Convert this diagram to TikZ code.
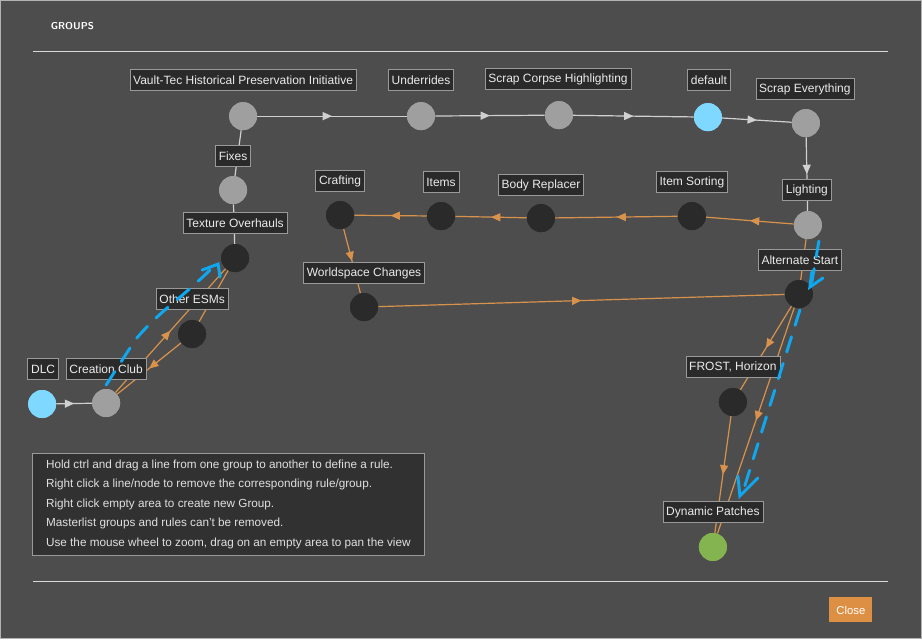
\documentclass[tikz,border=0pt]{standalone}
\usepackage{fontspec}
\setmainfont{Liberation Sans}
\usetikzlibrary{decorations.markings,arrows.meta}
\definecolor{bg}{HTML}{4D4D4D}
\definecolor{lbl}{HTML}{2A2A2A}
\definecolor{org}{HTML}{D9924C}
\definecolor{gry}{HTML}{D0D0D0}
\definecolor{skyb}{HTML}{7FD8FF}
\definecolor{dblue}{HTML}{0FA8F0}
\definecolor{grn}{HTML}{84B450}
\begin{document}
\begin{tikzpicture}[x=0.75pt,y=-0.75pt,
  lab/.style={fill=lbl,draw=gray!80,line width=0.5pt,text=white!92!black,font=\fontsize{9}{10}\selectfont,inner sep=2.5pt,minimum height=16},
  dot/.style={circle,minimum size=21,inner sep=0},
  g/.style={dot,fill=gray!75},
  b/.style={dot,fill=lbl},
  sk/.style={dot,fill=skyb},
  gn/.style={dot,fill=grn},
  mid/.style={postaction={decorate},decoration={markings,mark=at position 0.5 with {\arrow{Triangle[length=7pt,width=6pt]}}}},
  ge/.style={gry,line width=0.9pt},
  oe/.style={org,line width=0.9pt},
  bl/.style={dblue,line width=2.2pt,dash pattern=on 12pt off 9pt,line cap=round}]
\fill[bg] (0,0) rectangle (922,639);
\draw[gray!60,line width=1pt] (0.5,0.5) rectangle (921.5,638.5);
\node[anchor=west,text=white,font=\sffamily\bfseries\fontsize{7.5}{9}\selectfont] (title) at (46,26) {GROUPS};
\draw[white!85!black] (33,51) -- (888,51);
\draw[white!85!black] (33,581) -- (888,581);
% nodes
\node[sk] (dlc) at (42,404) {};
\node[g] (cc) at (106,403) {};
\node[b] (oe) at (192,334) {};
\node[b] (to) at (235,258) {};
\node[g] (fx) at (233,190) {};
\node[g] (vt) at (243,116) {};
\node[g] (ur) at (421,116) {};
\node[g] (sc) at (559,115) {};
\node[sk] (df) at (708,117) {};
\node[g] (se) at (806,123) {};
\node[g] (li) at (808,225) {};
\node[b] (as) at (799,294) {};
\node[b] (fr) at (733,402) {};
\node[gn] (dp) at (713,547) {};
\node[b] (is) at (692,216) {};
\node[b] (br) at (541,218) {};
\node[b] (it) at (441,216) {};
\node[b] (cr) at (340,215) {};
\node[b] (ws) at (364,307) {};
% edges
\draw[ge,mid] (dlc) -- (cc);
\draw[ge,mid] (vt) -- (ur);
\draw[ge,mid] (ur) -- (sc);
\draw[ge,mid] (sc) -- (df);
\draw[ge,mid] (df) -- (se);
\draw[ge,mid] (se) -- (li);
\draw[ge] (vt) -- (fx) -- (to);
\draw[oe,mid] (li) -- (is);
\draw[oe,mid] (is) -- (br);
\draw[oe,mid] (br) -- (it);
\draw[oe,mid] (it) -- (cr);
\draw[oe,mid] (cr) -- (ws);
\draw[oe,mid] (ws) -- (as);
\draw[oe] (li) -- (as);
\draw[oe,mid] (cc) -- (to);
\draw[oe,mid] (oe) -- (cc);
\draw[oe] (oe) -- (to);
\draw[oe,mid] (as) -- (fr);
\draw[oe,mid] (fr) -- (dp);
\draw[oe,mid] (as) -- (dp);
% redraw dots on top of connectors
\node[sk] at (dlc) {}; \node[g] at (cc) {}; \node[b] at (oe) {}; \node[b] at (to) {};
\node[g] at (fx) {}; \node[g] at (vt) {}; \node[g] at (ur) {}; \node[g] at (sc) {};
\node[sk] at (df) {}; \node[g] at (se) {}; \node[g] at (li) {}; \node[b] at (as) {};
\node[b] at (fr) {}; \node[gn] at (dp) {};
\node[b] at (is) {}; \node[b] at (br) {}; \node[b] at (it) {}; \node[b] at (cr) {}; \node[b] at (ws) {};
% labels
\node[lab] (l1) at (243,80) {Vault-Tec Historical Preservation Initiative};
\node[lab] (l2) at (421,80) {Underrides};
\node[lab] (l3) at (558,79) {Scrap Corpse Highlighting};
\node[lab] (l4) at (709,80) {default};
\node[lab] (l5) at (805,89) {Scrap Everything};
\node[lab] (l6) at (233,156) {Fixes};
\node[lab] (l7) at (235,223) {Texture Overhauls};
\node[lab] (l8) at (192,299) {Other ESMs};
\node[lab] (l9) at (106,369) {Creation Club};
\node[lab] (l10) at (43,369) {DLC};
\node[lab] (l11) at (340,181) {Crafting};
\node[lab] (l12) at (441,182) {Items};
\node[lab] (l13) at (541,185) {Body Replacer};
\node[lab] (l14) at (692,182) {Item Sorting};
\node[lab] (l15) at (807,190) {Lighting};
\node[lab] (l16) at (364,273) {Worldspace Changes};
\node[lab] (l17) at (800,260) {Alternate Start};
\node[lab] (l18) at (733,367) {FROST, Horizon};
\node[lab] (l19) at (713,512) {Dynamic Patches};
% blue strokes
\draw[bl] (106,385) -- (135,340) .. controls (160,310) and (180,300) .. (215,265);
\draw[dblue,line width=2.2pt,line cap=round] (202,270) -- (218,264) -- (220,277);
\draw[bl] (819,241) -- (812,282);
\draw[dblue,line width=2.2pt,line cap=round] (812,272) -- (810,287) -- (823,278);
\draw[bl] (800,310) -- (742,495);
\draw[dblue,line width=2.2pt,line cap=round] (738,476) -- (740,496) -- (758,478);
% help box
\node[draw=gray!80,fill=lbl!80!bg,anchor=north west,align=left,text=white!88!black,font=\fontsize{8.8}{14.6}\selectfont,inner sep=5pt,minimum width=392*0.75pt,minimum height=96*0.75pt] (help) at (32,453) {Hold ctrl and drag a line from one group to another to define a rule.\\Right click a line/node to remove the corresponding rule/group.\\Right click empty area to create new Group.\\Masterlist groups and rules can't be removed.\\Use the mouse wheel to zoom, drag on an empty area to pan the view};
\node[fill=org!90!orange,text=white,font=\fontsize{8.5}{10}\selectfont,minimum width=43*0.75pt,minimum height=25*0.75pt,inner sep=0] (close) at (851,610) {Close};
\end{tikzpicture}
\end{document}
